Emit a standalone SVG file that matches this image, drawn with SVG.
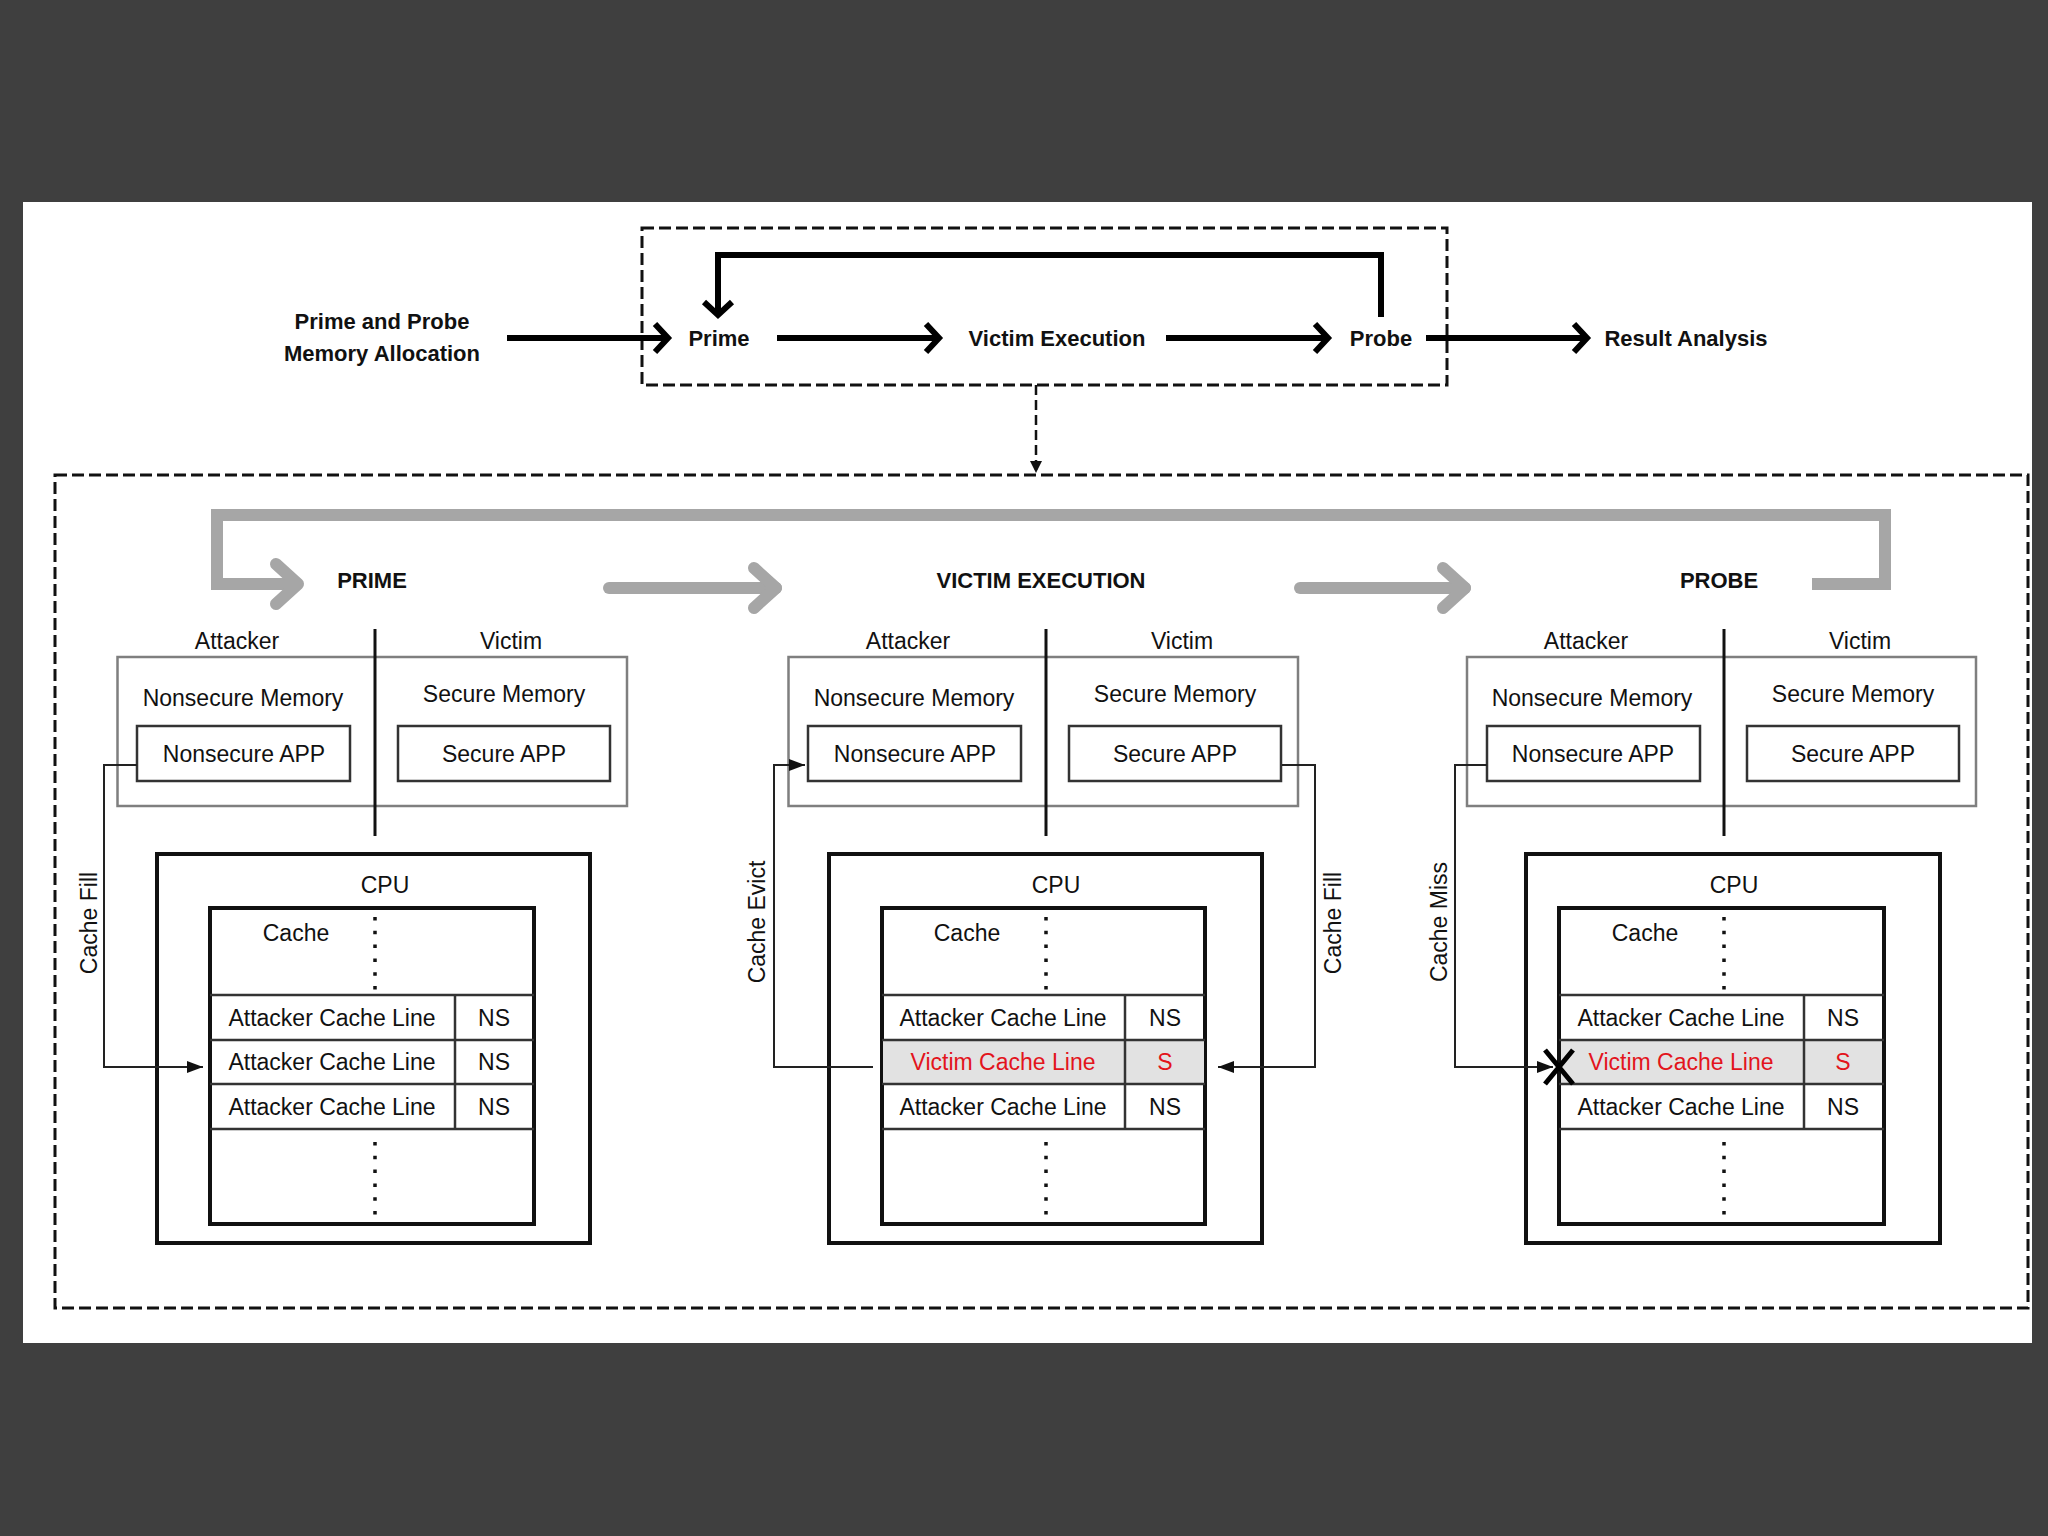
<svg xmlns="http://www.w3.org/2000/svg" width="2048" height="1536" viewBox="0 0 2048 1536">
<defs>
<style>
.t{font-family:"Liberation Sans",Arial,sans-serif;font-size:23px;fill:#111;text-anchor:middle}
.b{font-weight:bold;font-size:22px}
.red{fill:#e3141c}
.dash{fill:none;stroke:#111;stroke-width:3;stroke-dasharray:12 5}
.flow{fill:none;stroke:#000;stroke-width:6}
.gray{fill:none;stroke:#a6a6a6;stroke-width:12}
.conn{fill:none;stroke:#222;stroke-width:2}
.mem{fill:none;stroke:#7f7f7f;stroke-width:2.5}
.app{fill:#fff;stroke:#333;stroke-width:2.5}
.cpu{fill:#fff;stroke:#111;stroke-width:4}
.row{stroke:#333;stroke-width:2.5}
.dots{stroke:#111;stroke-width:3.5;stroke-dasharray:3.5 10.3}
.div{stroke:#111;stroke-width:3}
</style>
<marker id="chev" markerUnits="userSpaceOnUse" viewBox="-22 -22 34 44" markerWidth="34" markerHeight="44" refX="0" refY="0" orient="auto">
<path d="M-13,-14 L0,0 L-13,14" fill="none" stroke="#000" stroke-width="6"/>
</marker>
<marker id="gchev" markerUnits="userSpaceOnUse" viewBox="-34 -30 46 60" markerWidth="46" markerHeight="60" refX="0" refY="0" orient="auto">
<path d="M-22,-20 L0,0 L-22,20" fill="none" stroke="#a6a6a6" stroke-width="12" stroke-linecap="round" stroke-linejoin="round"/>
</marker>
<marker id="tri" markerUnits="userSpaceOnUse" viewBox="-18 -8 20 16" markerWidth="20" markerHeight="16" refX="0" refY="0" orient="auto">
<path d="M-16,-6 L0,0 L-16,6 Z" fill="#111"/>
</marker>
<marker id="tri2" markerUnits="userSpaceOnUse" viewBox="-14 -8 16 16" markerWidth="16" markerHeight="16" refX="0" refY="0" orient="auto">
<path d="M-12,-6 L0,0 L-12,6 Z" fill="#111"/>
</marker>
</defs>

<rect x="0" y="0" width="2048" height="1536" fill="#3f3f3f"/>
<rect x="23" y="202" width="2009" height="1141" fill="#fff"/>

<!-- top flow nodes -->
<g id="alloc"><text class="t b" x="382" y="329">Prime and Probe</text><text class="t b" x="382" y="361">Memory Allocation</text></g>
<g id="loopbox"><rect class="dash" x="642" y="228" width="805" height="157"/></g>
<g id="prime"><text class="t b" x="719" y="346">Prime</text></g>
<g id="victimexec"><text class="t b" x="1057" y="346">Victim Execution</text></g>
<g id="probe"><text class="t b" x="1381" y="346">Probe</text></g>
<g id="result"><text class="t b" x="1686" y="346">Result Analysis</text></g>

<g id="detailbox"><rect class="dash" x="55" y="475" width="1973" height="833"/></g>

<!-- stage titles -->
<g id="stage-prime"><text class="t b" x="372" y="588">PRIME</text></g>
<g id="stage-victim"><text class="t b" x="1041" y="588">VICTIM EXECUTION</text></g>
<g id="stage-probe"><text class="t b" x="1719" y="588">PROBE</text></g>

<!-- panels -->
<g id="panel1">
<text class="t" x="237" y="649">Attacker</text><text class="t" x="511" y="649">Victim</text>
<rect class="mem" x="117.5" y="657" width="509.5" height="149"/>
<text class="t" x="243" y="706">Nonsecure Memory</text><text class="t" x="504" y="702">Secure Memory</text>
<rect class="app" x="137" y="726" width="213" height="55"/><text class="t" x="244" y="762">Nonsecure APP</text>
<rect class="app" x="398" y="726" width="212" height="55"/><text class="t" x="504" y="762">Secure APP</text>
<line class="div" x1="375" y1="629" x2="375" y2="836"/>
<rect class="cpu" x="157" y="854" width="433" height="389"/>
<text class="t" x="385" y="893">CPU</text>
<rect class="cpu" x="210" y="908" width="324" height="316"/>
<text class="t" x="296" y="941">Cache</text>
<line class="dots" x1="375" y1="917" x2="375" y2="990"/>
<line class="row" x1="210" y1="995" x2="534" y2="995"/><line class="row" x1="210" y1="1040" x2="534" y2="1040"/><line class="row" x1="210" y1="1084" x2="534" y2="1084"/><line class="row" x1="210" y1="1129" x2="534" y2="1129"/>
<line class="row" x1="455" y1="995" x2="455" y2="1129"/>
<text class="t" x="332" y="1026">Attacker Cache Line</text><text class="t" x="494" y="1026">NS</text>
<text class="t" x="332" y="1070">Attacker Cache Line</text><text class="t" x="494" y="1070">NS</text>
<text class="t" x="332" y="1115">Attacker Cache Line</text><text class="t" x="494" y="1115">NS</text>
<line class="dots" x1="375" y1="1142" x2="375" y2="1215"/>
</g>

<g id="panel2" transform="translate(671,0)">
<text class="t" x="237" y="649">Attacker</text><text class="t" x="511" y="649">Victim</text>
<rect class="mem" x="117.5" y="657" width="509.5" height="149"/>
<text class="t" x="243" y="706">Nonsecure Memory</text><text class="t" x="504" y="702">Secure Memory</text>
<rect class="app" x="137" y="726" width="213" height="55"/><text class="t" x="244" y="762">Nonsecure APP</text>
<rect class="app" x="398" y="726" width="212" height="55"/><text class="t" x="504" y="762">Secure APP</text>
<line class="div" x1="375" y1="629" x2="375" y2="836"/>
<rect class="cpu" x="158" y="854" width="433" height="389"/>
<text class="t" x="385" y="893">CPU</text>
<rect class="cpu" x="211" y="908" width="323" height="316"/>
<rect x="212" y="1041" width="321" height="42" fill="#e2e2e2"/>
<text class="t" x="296" y="941">Cache</text>
<line class="dots" x1="375" y1="917" x2="375" y2="990"/>
<line class="row" x1="211" y1="995" x2="534" y2="995"/><line class="row" x1="211" y1="1040" x2="534" y2="1040"/><line class="row" x1="211" y1="1084" x2="534" y2="1084"/><line class="row" x1="211" y1="1129" x2="534" y2="1129"/>
<line class="row" x1="454" y1="995" x2="454" y2="1129"/>
<text class="t" x="332" y="1026">Attacker Cache Line</text><text class="t" x="494" y="1026">NS</text>
<text class="t red" x="332" y="1070">Victim Cache Line</text><text class="t red" x="494" y="1070">S</text>
<text class="t" x="332" y="1115">Attacker Cache Line</text><text class="t" x="494" y="1115">NS</text>
<line class="dots" x1="375" y1="1142" x2="375" y2="1215"/>
</g>

<g id="panel3" transform="translate(1349,0)">
<text class="t" x="237" y="649">Attacker</text><text class="t" x="511" y="649">Victim</text>
<rect class="mem" x="118" y="657" width="509" height="149"/>
<text class="t" x="243" y="706">Nonsecure Memory</text><text class="t" x="504" y="702">Secure Memory</text>
<rect class="app" x="138" y="726" width="213" height="55"/><text class="t" x="244" y="762">Nonsecure APP</text>
<rect class="app" x="398" y="726" width="212" height="55"/><text class="t" x="504" y="762">Secure APP</text>
<line class="div" x1="375" y1="629" x2="375" y2="836"/>
<rect class="cpu" x="177" y="854" width="414" height="389"/>
<text class="t" x="385" y="893">CPU</text>
<rect class="cpu" x="210" y="908" width="325" height="316"/>
<rect x="212" y="1041" width="321" height="42" fill="#e2e2e2"/>
<text class="t" x="296" y="941">Cache</text>
<line class="dots" x1="375" y1="917" x2="375" y2="990"/>
<line class="row" x1="210" y1="995" x2="535" y2="995"/><line class="row" x1="210" y1="1040" x2="535" y2="1040"/><line class="row" x1="210" y1="1084" x2="535" y2="1084"/><line class="row" x1="210" y1="1129" x2="535" y2="1129"/>
<line class="row" x1="455" y1="995" x2="455" y2="1129"/>
<text class="t" x="332" y="1026">Attacker Cache Line</text><text class="t" x="494" y="1026">NS</text>
<text class="t red" x="332" y="1070">Victim Cache Line</text><text class="t red" x="494" y="1070">S</text>
<text class="t" x="332" y="1115">Attacker Cache Line</text><text class="t" x="494" y="1115">NS</text>
<line class="dots" x1="375" y1="1142" x2="375" y2="1215"/>
</g>

<!-- connectors -->
<g id="connectors">
<line class="flow" x1="507" y1="338" x2="668" y2="338" marker-end="url(#chev)"/>
<line class="flow" x1="777" y1="338" x2="939" y2="338" marker-end="url(#chev)"/>
<line class="flow" x1="1166" y1="338" x2="1328" y2="338" marker-end="url(#chev)"/>
<line class="flow" x1="1426" y1="338" x2="1587" y2="338" marker-end="url(#chev)"/>
<path class="flow" d="M1381,317 V255 H718 V315" marker-end="url(#chev)"/>
<line x1="1036" y1="385" x2="1036" y2="473" stroke="#111" stroke-width="2.5" stroke-dasharray="10 5" marker-end="url(#tri2)"/>

<path class="gray" d="M1812,584 H1885 V515 H217 V584 H298" marker-end="url(#gchev)"/>
<line class="gray" x1="609" y1="588" x2="776" y2="588" stroke-linecap="round" marker-end="url(#gchev)"/>
<line class="gray" x1="1300" y1="588" x2="1465" y2="588" stroke-linecap="round" marker-end="url(#gchev)"/>

<path class="conn" d="M137,765 H104 V1067 H203" marker-end="url(#tri)"/>
<text class="t" x="97" y="923" transform="rotate(-90 97 923)">Cache Fill</text>

<path class="conn" d="M873,1067 H774 V765 H805" marker-end="url(#tri)"/>
<text class="t" x="765" y="922" transform="rotate(-90 765 922)">Cache Evict</text>

<path class="conn" d="M1282,765 H1315 V1067 H1218" marker-end="url(#tri)"/>
<text class="t" x="1341" y="923" transform="rotate(-90 1341 923)">Cache Fill</text>

<path class="conn" d="M1487,765 H1455 V1067 H1553" marker-end="url(#tri)"/>
<text class="t" x="1447" y="922" transform="rotate(-90 1447 922)">Cache Miss</text>
<path d="M1545,1050 L1573,1084 M1573,1050 L1545,1084" stroke="#000" stroke-width="5" fill="none"/>
</g>
</svg>
